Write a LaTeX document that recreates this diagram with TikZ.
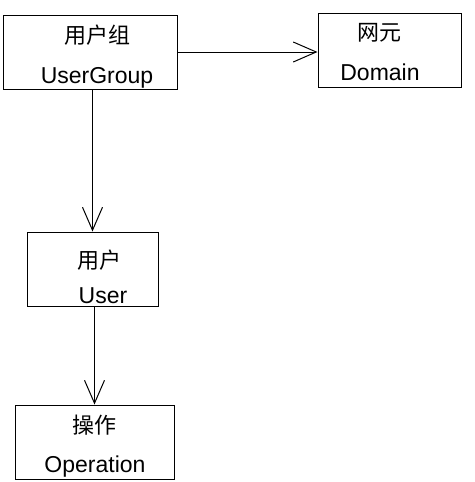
\documentclass[tikz,border=0pt]{standalone}
\usepackage{fontspec}
\setmainfont{Liberation Sans}
\newfontfamily\cjk{Noto Sans CJK SC}
\usetikzlibrary{arrows.meta,positioning}
\tikzset{
  entity/.style={draw, line width=1pt, inner sep=0pt, minimum height=74pt},
  zh/.style={font=\cjk\fontsize{22}{22}\selectfont, inner sep=0pt},
  en/.style={font=\fontsize{23}{23}\selectfont, inner sep=0pt, anchor=base},
  link/.style={-{Straight Barb[length=23pt,width=20pt]}, line width=1pt}
}
\begin{document}
\begin{tikzpicture}[x=1pt,y=-1pt]
  \useasboundingbox[fill=white] (0,0) rectangle (474,482);

  % boxes
  \node[entity, minimum width=174pt] (grp) at (90,52) {};
  \node[entity, minimum width=143pt] (dom) at (389.5,50) {};
  \node[entity, minimum width=131pt] (usr) at (92.5,269) {};
  \node[entity, minimum width=159pt] (op) at (94.5,442) {};

  % labels
  \node[zh] (grp-zh) at (97,35) {用户组};
  \node[en] (grp-en) at (97,83) {UserGroup};
  \node[zh] (dom-zh) at (379,33) {网元};
  \node[en] (dom-en) at (380,80) {Domain};
  \node[zh] (usr-zh) at (99,260) {用户};
  \node[en] (usr-en) at (103,303) {User};
  \node[zh] (op-zh) at (94,425) {操作};
  \node[en] (op-en) at (95,472) {Operation};

  % links
  \draw[link] (grp.east) -- (grp.east -| dom.west);
  \draw[link] (grp.south -| usr.north) -- (usr.north);
  \draw[link] (usr.south -| op.north) -- (op.north);
\end{tikzpicture}
\end{document}
